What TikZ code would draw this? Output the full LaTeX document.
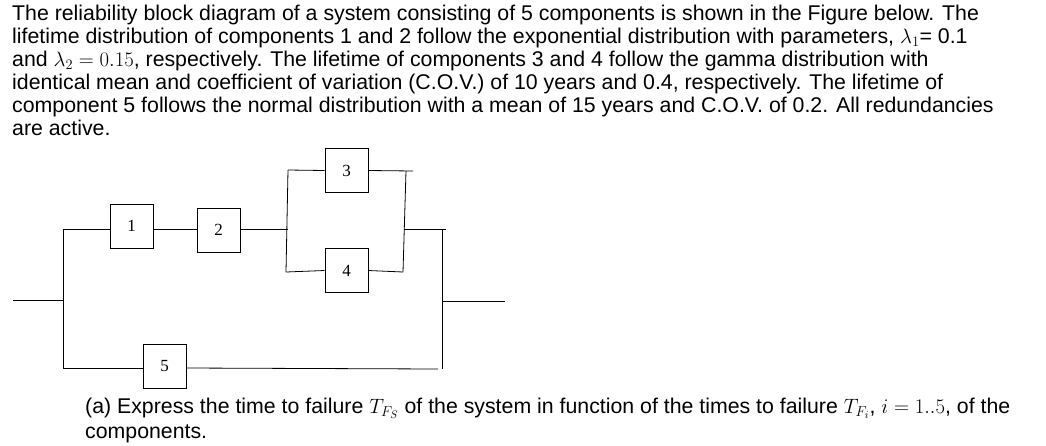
\documentclass[tikz,border=0pt]{standalone}
\usepackage{fontspec}
\setmainfont{Liberation Sans}
\begin{document}
\begin{tikzpicture}[x=1pt,y=-1pt,
  blk/.style={draw,line width=0.8pt,minimum width=43pt,minimum height=44pt,inner sep=0pt,font=\fontspec{Liberation Serif}\fontsize{17}{17}\selectfont},
  wire/.style={line width=0.8pt},
  txt/.style={anchor=base west,inner sep=0pt,font=\fontsize{21.3}{21.3}\selectfont}]
\useasboundingbox (0,0) rectangle (1046,445);
\node[txt] (t1) at (12,20) {The reliability block diagram of a system consisting of 5 components is shown in the Figure below. The};
\node[txt] (t2) at (12,43) {lifetime distribution of components 1 and 2 follow the exponential distribution with parameters, $\lambda_1$= 0.1};
\node[txt] (t3) at (12,66) {and $\lambda_2$ $=0.15$, respectively. The lifetime of components 3 and 4 follow the gamma distribution with};
\node[txt] (t4) at (12,89) {identical mean and coefficient of variation (C.O.V.) of 10 years and 0.4, respectively. The lifetime of};
\node[txt] (t5) at (12,112) {component 5 follows the normal distribution with a mean of 15 years and C.O.V. of 0.2. All redundancies};
\node[txt] (t6) at (12,135) {are active.};
\node[txt] (t7) at (85,413) {(a) Express the time to failure $T_{F_S}$ of the system in function of the times to failure $T_{F_i}$, $i=1..5$, of the};
\node[txt] (t8) at (85,438) {components.};
\node[blk] (b1) at (131.5,226) {1};
\node[blk] (b2) at (218.5,230) {2};
\node[blk] (b3) at (346.5,170.5) {3};
\node[blk] (b4) at (346.5,270.5) {4};
\node[blk] (b5) at (164.5,366.5) {5};
\coordinate (in) at (13,300);
\coordinate (L) at (63,300);
\coordinate (out) at (505,301);
\coordinate (R) at (442,301);
\draw[wire] (in) -- (L);
\draw[wire] (63,229) -- (63,368);
\draw[wire] (63,229) -- (b1.west |- 0,229);
\draw[wire] (b1.east |- 0,229) -- (b2.west |- 0,229);
\draw[wire] (b2.east |- 0,229) -- (288,229);
\draw[wire] (288,170) -- (286,272);
\draw[wire] (288,170) -- (b3.west);
\draw[wire] (286,272) -- (b4.west);
\draw[wire] (b3.east) -- (413,171);
\draw[wire] (406,171) -- (403,272);
\draw[wire] (b4.east) -- (403,272);
\draw[wire] (404,229) -- (446,229);
\draw[wire] (442,229) -- (442,369);
\draw[wire] (R) -- (out);
\draw[wire] (63,368) -- (b5.west |- 0,368);
\draw[wire] (b5.east |- 0,368) -- (438,369);
\end{tikzpicture}
\end{document}
